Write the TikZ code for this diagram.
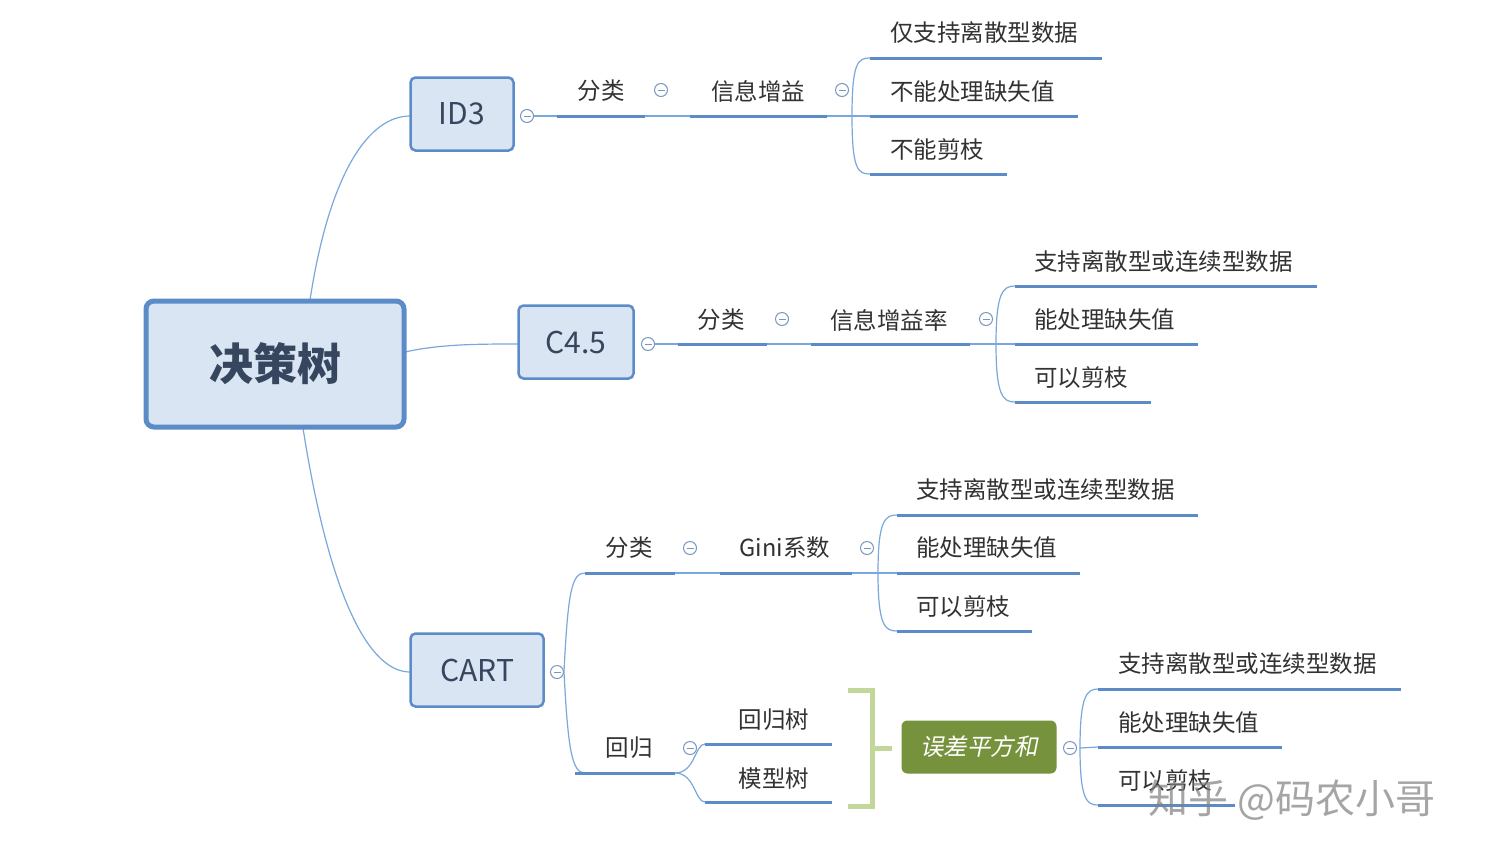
\documentclass[tikz,border=0pt]{standalone}
\usepackage{fontspec}
\newfontfamily\cjk{Noto Sans CJK SC}
\definecolor{lnc}{RGB}{120,168,220}
\definecolor{ulc}{RGB}{91,140,200}
\definecolor{boxf}{RGB}{218,229,243}
\definecolor{ccc}{RGB}{120,150,190}
\definecolor{txc}{RGB}{50,50,50}
\definecolor{hdc}{RGB}{55,70,95}
\definecolor{brk}{RGB}{196,215,155}
\definecolor{grn}{RGB}{118,146,60}
\begin{document}
\begin{tikzpicture}[x=1pt,y=-1pt,
  ln/.style={draw=lnc, line width=1.2pt},
  ul/.style={line width=3pt, draw=ulc},
  box/.style={draw=ulc, fill=boxf, rounded corners=5pt, line width=2.5pt},
  tx/.style={font=\cjk\fontsize{23.5}{27}\selectfont, text=txc, inner sep=0pt},
  cc/.style={circle, draw=ccc, fill=white, line width=1pt, minimum size=13pt, inner sep=0pt,
    path picture={\draw[ccc, line width=1pt] ([xshift=-3.5pt]path picture bounding box.center) -- ([xshift=3.5pt]path picture bounding box.center);}}]
\useasboundingbox (0,0) rectangle (1491,863);
\fill[white] (0,0) rectangle (1491,863);
% root connectors
\draw[ln] (310,300) .. controls (330,170) and (370,116) .. (410,116);
\draw[ln] (405,352) .. controls (440,344) and (480,344) .. (518,344);
\draw[ln] (303,428) .. controls (330,600) and (370,672) .. (410,672);
% boxes
\node[box, line width=5pt, rounded corners=8pt, minimum width=258pt, minimum height=126pt] (root) at (275,364) {};
\node[font=\cjk\bfseries\fontsize{44}{48}\selectfont, text=hdc] at (root) {决策树};
\node[box, minimum width=103pt, minimum height=73pt, font=\cjk\fontsize{30}{32}\selectfont, text=hdc] (id3) at (462,114) {ID3};
\node[box, minimum width=115pt, minimum height=73pt, font=\cjk\fontsize{30}{32}\selectfont, text=hdc] (c45) at (576,342) {C4.5};
\node[box, minimum width=133pt, minimum height=73pt, font=\cjk\fontsize{30}{32}\selectfont, text=hdc] (cart) at (477,670) {CART};
% ---- ID3
\draw[ln] (534,116) -- (852,116);
\draw[ul] (557,116) -- (645,116); \node[tx] at (601,91) {分类};
\draw[ul] (690,116) -- (827,116); \node[tx] at (758,91) {信息增益};
\node[cc] (a0) at (527,116) {}; \node[cc] at (661,90) {}; \node[cc] at (842,90) {};
\draw[ln] (852,116) .. controls (852,62) and (858,58) .. (870,58);
\draw[ln] (852,116) .. controls (852,170) and (858,174) .. (870,174);
\draw[ln] (852,116) -- (870,116);
\draw[ul] (870,58) -- (1102,58); \node[tx, anchor=west] at (890,33) {仅支持离散型数据};
\draw[ul] (870,116) -- (1078,116); \node[tx, anchor=west] at (890,92) {不能处理缺失值};
\draw[ul] (870,174) -- (1007,174); \node[tx, anchor=west] at (890,150) {不能剪枝};
% ---- C4.5
\draw[ln] (655,344) -- (996,344);
\draw[ul] (678,344) -- (767,344); \node[tx] at (721,320) {分类};
\draw[ul] (811,344) -- (970,344); \node[tx] at (889,320) {信息增益率};
\node[cc] at (648,344) {}; \node[cc] at (782,319) {}; \node[cc] at (986,319) {};
\draw[ln] (996,344) .. controls (996,292) and (1003,286) .. (1015,286);
\draw[ln] (996,344) .. controls (996,396) and (1003,402) .. (1015,402);
\draw[ln] (996,344) -- (1015,344);
\draw[ul] (1015,286) -- (1317,286); \node[tx, anchor=west] at (1034,262) {支持离散型或连续型数据};
\draw[ul] (1015,344) -- (1198,344); \node[tx, anchor=west] at (1034,320) {能处理缺失值};
\draw[ul] (1015,402) -- (1151,402); \node[tx, anchor=west] at (1034,378) {可以剪枝};
% ---- CART
\draw[ln] (564,672) .. controls (568,590) and (572,573) .. (585,573);
\draw[ln] (564,672) .. controls (568,750) and (572,773) .. (585,773);
\draw[ln] (585,573) -- (878,573);
\draw[ul] (585,573) -- (675,573); \node[tx] at (629,548) {分类};
\draw[ul] (720,573) -- (852,573); \node[tx] at (785,548) {Gini系数};
\node[cc] at (557,672) {}; \node[cc] at (690,548) {}; \node[cc] at (867,548) {};
\draw[ln] (878,573) .. controls (878,520) and (885,515) .. (897,515);
\draw[ln] (878,573) .. controls (878,626) and (885,631) .. (897,631);
\draw[ln] (878,573) -- (897,573);
\draw[ul] (897,515) -- (1198,515); \node[tx, anchor=west] at (916,490) {支持离散型或连续型数据};
\draw[ul] (897,573) -- (1080,573); \node[tx, anchor=west] at (916,548) {能处理缺失值};
\draw[ul] (897,631) -- (1032,631); \node[tx, anchor=west] at (916,607) {可以剪枝};
% regression
\draw[ul] (575,773) -- (675,773); \node[tx] at (629,748) {回归};
\node[cc] at (690,748) {};
\draw[ln] (675,773) .. controls (695,773) and (695,744) .. (705,744);
\draw[ln] (675,773) .. controls (695,773) and (695,802) .. (705,802);
\draw[ul] (705,744) -- (832,744); \node[tx] at (774,720) {回归树};
\draw[ul] (705,802) -- (832,802); \node[tx] at (774,779) {模型树};
\draw[line width=5pt, brk] (848,690) -- (872,690) -- (872,806) -- (848,806);
\draw[line width=5pt, brk] (872,748) -- (892,748);
\node[fill=grn, rounded corners=6pt, minimum width=155pt, minimum height=53pt, text=white, font=\cjk\fontsize{23.5}{27}\selectfont] (err) at (979,747) {\addfontfeature{FakeSlant=0.2}误差平方和};
\node[cc] at (1070,748) {};
\draw[ln] (1080,748) .. controls (1080,695) and (1087,689) .. (1098,689);
\draw[ln] (1080,748) .. controls (1080,800) and (1087,805) .. (1098,805);
\draw[ln] (1080,748) -- (1098,747);
\draw[ul] (1098,689) -- (1401,689); \node[tx, anchor=west] at (1118,664) {支持离散型或连续型数据};
\draw[ul] (1098,747) -- (1282,747); \node[tx, anchor=west] at (1118,723) {能处理缺失值};
\draw[ul] (1098,805) -- (1235,805); \node[tx, anchor=west] at (1118,781) {可以剪枝};
% watermark
\node[font=\cjk\fontsize{40}{44}\selectfont, text=gray, opacity=0.7] at (1292,800) {知乎 @码农小哥};
\end{tikzpicture}
\end{document}
